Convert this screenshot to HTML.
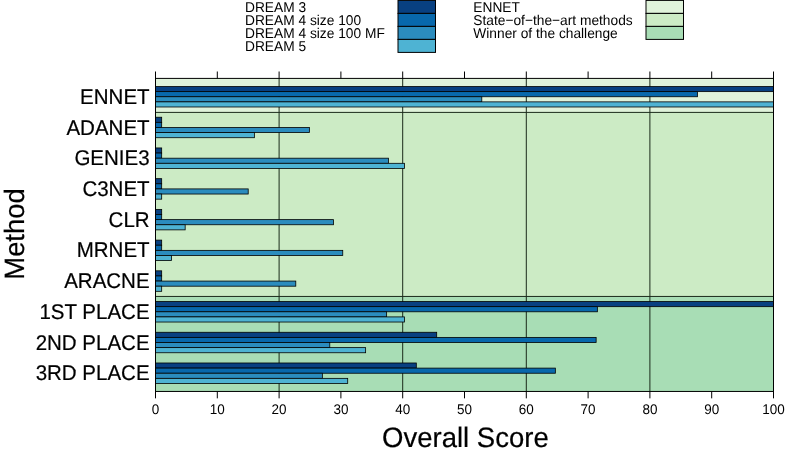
<!DOCTYPE html><html><head><meta charset="utf-8"><title>Overall Score</title><style>
html,body{margin:0;padding:0;background:#fff;width:785px;height:453px;overflow:hidden}
svg{display:block}text{font-family:"Liberation Sans", Arial, Helvetica, sans-serif;fill:#000;text-rendering:geometricPrecision}text.b{stroke:#000;stroke-width:0.2px}
</style></head><body>
<svg width="785" height="453" viewBox="0 0 785 453">
<rect x="155.50" y="78.40" width="618.00" height="34.00" fill="#e0f3db"/>
<rect x="155.50" y="112.40" width="618.00" height="184.05" fill="#ccebc5"/>
<rect x="155.50" y="296.45" width="618.00" height="95.00" fill="#a8ddb5"/>
<line x1="279.10" y1="78.40" x2="279.10" y2="391.45" stroke="#1a2a1a" stroke-width="1"/>
<line x1="402.70" y1="78.40" x2="402.70" y2="391.45" stroke="#1a2a1a" stroke-width="1"/>
<line x1="526.30" y1="78.40" x2="526.30" y2="391.45" stroke="#1a2a1a" stroke-width="1"/>
<line x1="649.90" y1="78.40" x2="649.90" y2="391.45" stroke="#1a2a1a" stroke-width="1"/>
<line x1="155.50" y1="112.40" x2="773.50" y2="112.40" stroke="#1a2a1a" stroke-width="1"/>
<line x1="155.50" y1="296.45" x2="773.50" y2="296.45" stroke="#1a2a1a" stroke-width="1"/>
<rect x="155.50" y="86.51" width="618.00" height="5.12" fill="#084081" stroke="#000" stroke-width="0.8"/>
<rect x="155.50" y="91.63" width="541.99" height="5.12" fill="#0868ac" stroke="#000" stroke-width="0.8"/>
<rect x="155.50" y="96.75" width="326.30" height="5.12" fill="#2b8cbe" stroke="#000" stroke-width="0.8"/>
<rect x="155.50" y="101.87" width="618.00" height="5.12" fill="#4eb3d3" stroke="#000" stroke-width="0.8"/>
<rect x="155.50" y="117.23" width="6.18" height="5.12" fill="#084081" stroke="#000" stroke-width="0.8"/>
<rect x="155.50" y="122.35" width="6.18" height="5.12" fill="#0868ac" stroke="#000" stroke-width="0.8"/>
<rect x="155.50" y="127.47" width="153.88" height="5.12" fill="#2b8cbe" stroke="#000" stroke-width="0.8"/>
<rect x="155.50" y="132.59" width="98.88" height="5.12" fill="#4eb3d3" stroke="#000" stroke-width="0.8"/>
<rect x="155.50" y="147.95" width="6.18" height="5.12" fill="#084081" stroke="#000" stroke-width="0.8"/>
<rect x="155.50" y="153.07" width="6.18" height="5.12" fill="#0868ac" stroke="#000" stroke-width="0.8"/>
<rect x="155.50" y="158.19" width="232.99" height="5.12" fill="#2b8cbe" stroke="#000" stroke-width="0.8"/>
<rect x="155.50" y="163.31" width="249.05" height="5.12" fill="#4eb3d3" stroke="#000" stroke-width="0.8"/>
<rect x="155.50" y="178.67" width="6.18" height="5.12" fill="#084081" stroke="#000" stroke-width="0.8"/>
<rect x="155.50" y="183.79" width="6.18" height="5.12" fill="#0868ac" stroke="#000" stroke-width="0.8"/>
<rect x="155.50" y="188.91" width="92.70" height="5.12" fill="#2b8cbe" stroke="#000" stroke-width="0.8"/>
<rect x="155.50" y="194.03" width="6.18" height="5.12" fill="#4eb3d3" stroke="#000" stroke-width="0.8"/>
<rect x="155.50" y="209.39" width="6.18" height="5.12" fill="#084081" stroke="#000" stroke-width="0.8"/>
<rect x="155.50" y="214.51" width="6.18" height="5.12" fill="#0868ac" stroke="#000" stroke-width="0.8"/>
<rect x="155.50" y="219.63" width="177.98" height="5.12" fill="#2b8cbe" stroke="#000" stroke-width="0.8"/>
<rect x="155.50" y="224.75" width="29.66" height="5.12" fill="#4eb3d3" stroke="#000" stroke-width="0.8"/>
<rect x="155.50" y="240.11" width="6.18" height="5.12" fill="#084081" stroke="#000" stroke-width="0.8"/>
<rect x="155.50" y="245.23" width="6.18" height="5.12" fill="#0868ac" stroke="#000" stroke-width="0.8"/>
<rect x="155.50" y="250.35" width="187.25" height="5.12" fill="#2b8cbe" stroke="#000" stroke-width="0.8"/>
<rect x="155.50" y="255.47" width="16.07" height="5.12" fill="#4eb3d3" stroke="#000" stroke-width="0.8"/>
<rect x="155.50" y="270.83" width="6.18" height="5.12" fill="#084081" stroke="#000" stroke-width="0.8"/>
<rect x="155.50" y="275.95" width="6.18" height="5.12" fill="#0868ac" stroke="#000" stroke-width="0.8"/>
<rect x="155.50" y="281.07" width="140.29" height="5.12" fill="#2b8cbe" stroke="#000" stroke-width="0.8"/>
<rect x="155.50" y="286.19" width="6.18" height="5.12" fill="#4eb3d3" stroke="#000" stroke-width="0.8"/>
<rect x="155.50" y="301.55" width="618.00" height="5.12" fill="#084081" stroke="#000" stroke-width="0.8"/>
<rect x="155.50" y="306.67" width="441.87" height="5.12" fill="#0868ac" stroke="#000" stroke-width="0.8"/>
<rect x="155.50" y="311.79" width="231.13" height="5.12" fill="#2b8cbe" stroke="#000" stroke-width="0.8"/>
<rect x="155.50" y="316.91" width="249.05" height="5.12" fill="#4eb3d3" stroke="#000" stroke-width="0.8"/>
<rect x="155.50" y="332.27" width="281.19" height="5.12" fill="#084081" stroke="#000" stroke-width="0.8"/>
<rect x="155.50" y="337.39" width="440.63" height="5.12" fill="#0868ac" stroke="#000" stroke-width="0.8"/>
<rect x="155.50" y="342.51" width="174.28" height="5.12" fill="#2b8cbe" stroke="#000" stroke-width="0.8"/>
<rect x="155.50" y="347.63" width="210.12" height="5.12" fill="#4eb3d3" stroke="#000" stroke-width="0.8"/>
<rect x="155.50" y="362.99" width="260.80" height="5.12" fill="#084081" stroke="#000" stroke-width="0.8"/>
<rect x="155.50" y="368.11" width="399.85" height="5.12" fill="#0868ac" stroke="#000" stroke-width="0.8"/>
<rect x="155.50" y="373.23" width="166.86" height="5.12" fill="#2b8cbe" stroke="#000" stroke-width="0.8"/>
<rect x="155.50" y="378.35" width="192.20" height="5.12" fill="#4eb3d3" stroke="#000" stroke-width="0.8"/>
<rect x="155.50" y="78.40" width="618.00" height="313.05" fill="none" stroke="#000" stroke-width="1"/>
<line x1="155.50" y1="78.40" x2="155.50" y2="71.50" stroke="#000" stroke-width="1"/>
<line x1="155.50" y1="391.45" x2="155.50" y2="398.35" stroke="#000" stroke-width="1"/>
<text transform="translate(155.50 414.10) scale(1 1.04)" font-size="13.5" text-anchor="middle">0</text>
<line x1="217.30" y1="78.40" x2="217.30" y2="71.50" stroke="#000" stroke-width="1"/>
<line x1="217.30" y1="391.45" x2="217.30" y2="398.35" stroke="#000" stroke-width="1"/>
<text transform="translate(217.30 414.10) scale(1 1.04)" font-size="13.5" text-anchor="middle">10</text>
<line x1="279.10" y1="78.40" x2="279.10" y2="71.50" stroke="#000" stroke-width="1"/>
<line x1="279.10" y1="391.45" x2="279.10" y2="398.35" stroke="#000" stroke-width="1"/>
<text transform="translate(279.10 414.10) scale(1 1.04)" font-size="13.5" text-anchor="middle">20</text>
<line x1="340.90" y1="78.40" x2="340.90" y2="71.50" stroke="#000" stroke-width="1"/>
<line x1="340.90" y1="391.45" x2="340.90" y2="398.35" stroke="#000" stroke-width="1"/>
<text transform="translate(340.90 414.10) scale(1 1.04)" font-size="13.5" text-anchor="middle">30</text>
<line x1="402.70" y1="78.40" x2="402.70" y2="71.50" stroke="#000" stroke-width="1"/>
<line x1="402.70" y1="391.45" x2="402.70" y2="398.35" stroke="#000" stroke-width="1"/>
<text transform="translate(402.70 414.10) scale(1 1.04)" font-size="13.5" text-anchor="middle">40</text>
<line x1="464.50" y1="78.40" x2="464.50" y2="71.50" stroke="#000" stroke-width="1"/>
<line x1="464.50" y1="391.45" x2="464.50" y2="398.35" stroke="#000" stroke-width="1"/>
<text transform="translate(464.50 414.10) scale(1 1.04)" font-size="13.5" text-anchor="middle">50</text>
<line x1="526.30" y1="78.40" x2="526.30" y2="71.50" stroke="#000" stroke-width="1"/>
<line x1="526.30" y1="391.45" x2="526.30" y2="398.35" stroke="#000" stroke-width="1"/>
<text transform="translate(526.30 414.10) scale(1 1.04)" font-size="13.5" text-anchor="middle">60</text>
<line x1="588.10" y1="78.40" x2="588.10" y2="71.50" stroke="#000" stroke-width="1"/>
<line x1="588.10" y1="391.45" x2="588.10" y2="398.35" stroke="#000" stroke-width="1"/>
<text transform="translate(588.10 414.10) scale(1 1.04)" font-size="13.5" text-anchor="middle">70</text>
<line x1="649.90" y1="78.40" x2="649.90" y2="71.50" stroke="#000" stroke-width="1"/>
<line x1="649.90" y1="391.45" x2="649.90" y2="398.35" stroke="#000" stroke-width="1"/>
<text transform="translate(649.90 414.10) scale(1 1.04)" font-size="13.5" text-anchor="middle">80</text>
<line x1="711.70" y1="78.40" x2="711.70" y2="71.50" stroke="#000" stroke-width="1"/>
<line x1="711.70" y1="391.45" x2="711.70" y2="398.35" stroke="#000" stroke-width="1"/>
<text transform="translate(711.70 414.10) scale(1 1.04)" font-size="13.5" text-anchor="middle">90</text>
<line x1="773.50" y1="78.40" x2="773.50" y2="71.50" stroke="#000" stroke-width="1"/>
<line x1="773.50" y1="391.45" x2="773.50" y2="398.35" stroke="#000" stroke-width="1"/>
<text transform="translate(773.50 414.10) scale(1 1.04)" font-size="13.5" text-anchor="middle">100</text>
<text class="b" transform="translate(149.60 103.80) scale(1 1.04)" font-size="20.5" text-anchor="end">ENNET</text>
<text class="b" transform="translate(149.60 134.52) scale(1 1.04)" font-size="20.5" text-anchor="end">ADANET</text>
<text class="b" transform="translate(149.60 165.24) scale(1 1.04)" font-size="20.5" text-anchor="end">GENIE3</text>
<text class="b" transform="translate(149.60 195.96) scale(1 1.04)" font-size="20.5" text-anchor="end">C3NET</text>
<text class="b" transform="translate(149.60 226.68) scale(1 1.04)" font-size="20.5" text-anchor="end">CLR</text>
<text class="b" transform="translate(149.60 257.40) scale(1 1.04)" font-size="20.5" text-anchor="end">MRNET</text>
<text class="b" transform="translate(149.60 288.12) scale(1 1.04)" font-size="20.5" text-anchor="end">ARACNE</text>
<text class="b" transform="translate(149.60 318.84) scale(1 1.04)" font-size="20.5" text-anchor="end">1ST PLACE</text>
<text class="b" transform="translate(149.60 349.56) scale(1 1.04)" font-size="20.5" text-anchor="end">2ND PLACE</text>
<text class="b" transform="translate(149.60 380.28) scale(1 1.04)" font-size="20.5" text-anchor="end">3RD PLACE</text>
<text class="b" transform="translate(465.40 446.80) scale(1 1.02)" font-size="27.5" text-anchor="middle">Overall Score</text>
<text class="b" transform="translate(24.00 234.00) rotate(-90) scale(1 1.02)" font-size="27.4" text-anchor="middle">Method</text>
<text transform="translate(245.00 11.60) scale(1 1.03)" font-size="13.75">DREAM 3</text>
<rect x="398" y="0.40" width="37.5" height="13.00" fill="#084081" stroke="#000" stroke-width="1"/>
<text transform="translate(245.00 24.65) scale(1 1.03)" font-size="13.75">DREAM 4 size 100</text>
<rect x="398" y="13.40" width="37.5" height="13.00" fill="#0868ac" stroke="#000" stroke-width="1"/>
<text transform="translate(245.00 37.70) scale(1 1.03)" font-size="13.75">DREAM 4 size 100 MF</text>
<rect x="398" y="26.40" width="37.5" height="13.00" fill="#2b8cbe" stroke="#000" stroke-width="1"/>
<text transform="translate(245.00 50.75) scale(1 1.03)" font-size="13.75">DREAM 5</text>
<rect x="398" y="39.40" width="37.5" height="13.00" fill="#4eb3d3" stroke="#000" stroke-width="1"/>
<text transform="translate(473.30 11.60) scale(1 1.03)" font-size="13.75">ENNET</text>
<rect x="646" y="0.40" width="37.5" height="13.00" fill="#e0f3db" stroke="#000" stroke-width="1"/>
<text transform="translate(473.30 24.65) scale(1 1.03)" font-size="13.75">State−of−the−art methods</text>
<rect x="646" y="13.40" width="37.5" height="13.00" fill="#ccebc5" stroke="#000" stroke-width="1"/>
<text transform="translate(473.30 37.70) scale(1 1.03)" font-size="13.75">Winner of the challenge</text>
<rect x="646" y="26.40" width="37.5" height="13.00" fill="#a8ddb5" stroke="#000" stroke-width="1"/>
</svg></body></html>
